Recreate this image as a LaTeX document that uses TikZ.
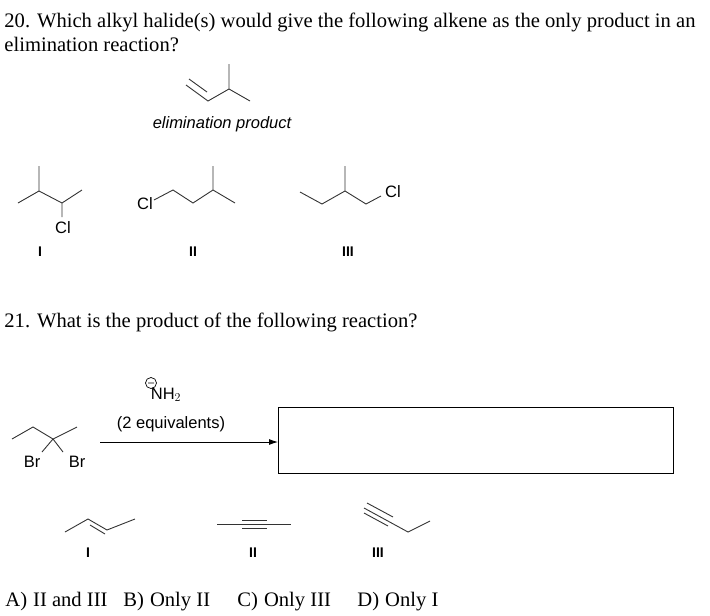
\documentclass[tikz,border=0pt]{standalone}
\usepackage{fontspec}
\setmainfont{Liberation Serif}
\newfontfamily\chem{Liberation Sans}
\usetikzlibrary{arrows.meta}
\begin{document}
\begin{tikzpicture}[x=1pt,y=-1pt,line width=0.9pt,
  q/.style={anchor=base west,inner sep=0,font=\fontsize{20.6}{24}\selectfont},
  lab/.style={inner sep=0,font=\chem\fontsize{16.5}{19}\selectfont},
  rn/.style={inner sep=0,font=\chem\bfseries\fontsize{14}{16}\selectfont},
  bond/.style={line width=0.9pt,color=black!80}]
\useasboundingbox (0,0) rectangle (710,616);
\node[q] (q20) at (4,27) {20. Which alkyl halide(s) would give the following alkene as the only product in an};
\node[q] (q20b) at (4,51) {elimination reaction?};
% product
\draw[bond] (186,85)--(208,101)--(229,89)--(229,64) (229,89)--(250,101);
\draw[bond] (189,79)--(207,92);
\node[lab,font=\chem\itshape\fontsize{16.5}{19}\selectfont] (ep) at (222,124) {elimination product};
% I
\draw[bond] (18,203)--(39,191)--(39,166) (39,191)--(62,203)--(82,190) (62,203)--(62,217);
\node[lab] (cl1) at (63,228) {Cl};
\node[rn] (r1) at (40,252) {I};
% II
\node[lab] (cl2) at (145,204) {Cl};
\draw[bond] (154,200)--(173,190)--(193,203)--(213,190)--(213,166) (213,190)--(235,203);
\node[rn] (r2) at (193,252) {II};
% III
\draw[bond] (300,192)--(322,204)--(345,191)--(345,166) (345,191)--(366,204)--(381,196);
\node[lab] (cl3) at (393,192) {Cl};
\node[rn] (r3) at (348,252) {III};
\node[q] (q21) at (4,327) {21. What is the product of the following reaction?};
% dibromide
\draw[bond] (12,439)--(33,427)--(53,439)--(77,427) (53,439)--(42,452) (53,439)--(63,452);
\node[lab] (br1) at (32,462) {Br};
\node[lab] (br2) at (77,462) {Br};
\node[lab] (nh2) at (166,395) {NH$_2$};
\draw[line width=0.7pt] (151,383) circle (5.5) (148,383)--(154,383);
\node[lab] (eq) at (171,424) {(2 equivalents)};
\coordinate (as) at (100,442);
\node[draw,line width=0.9pt,minimum width=395,minimum height=66,inner sep=0,anchor=north west] (box) at (278,407) {};
\draw[line width=0.9pt,-{Latex[length=9pt,width=6pt]}] (as) -- (box.west |- as);
% options
\draw[bond] (65,532)--(88,519)--(107,530)--(135,519);
\draw[bond] (90,525)--(105,534);
\node[rn] (o1) at (88,553) {I};
\draw[bond] (217,524)--(291,524) (242,520)--(267,520) (242,528)--(267,528);
\node[rn] (o2) at (253,553) {II};
\draw[bond] (364,508)--(408,532)--(430,521) (367,503)--(393,517) (364,513)--(388,526);
\node[rn] (o3) at (378,553) {III};
\node[q] (ansA) at (5,606) {A)\hspace{6pt}II and III};
\node[q] (ansB) at (123,606) {B)\hspace{6pt}Only II};
\node[q] (ansC) at (237,606) {C)\hspace{6pt}Only III};
\node[q] (ansD) at (357,606) {D)\hspace{6pt}Only I};
\end{tikzpicture}
\end{document}
